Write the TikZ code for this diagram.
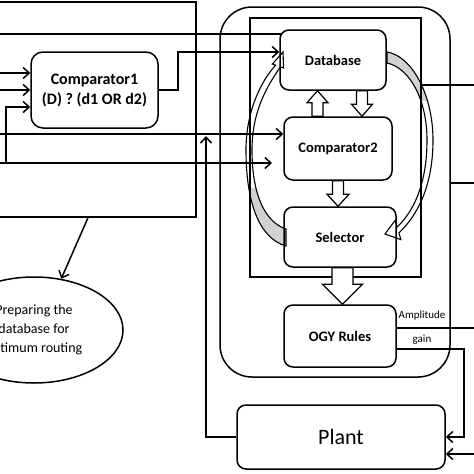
\documentclass[tikz,border=0pt]{standalone}
\usepackage{fontspec}
\setmainfont{Carlito}
\usetikzlibrary{calc,arrows.meta,shapes.geometric}

\tikzset{
	box/.style={draw,rounded corners=9pt,align=center,inner sep=0pt,
		font=\bfseries\fontsize{14.5}{17}\selectfont},
	flow/.style={-{Straight Barb[length=6pt,width=11pt]}},
	ribbon/.style={line width=1.1pt},
	small/.style={font=\fontsize{11}{13}\selectfont,inner sep=1pt}
}

% hollow block arrow: from, to, shaft half width, head half width, head length
\newcommand{\blockarrow}[5]{%
	\coordinate (ba) at ($(#2)!#5!(#1)$);
	\draw[fill=white,line width=1.2pt] ($(#1)!#3!90:(#2)$) -- ($(ba)!#3!90:(#2)$)
	-- ($(ba)!#4!90:(#2)$) -- (#2) -- ($(ba)!#4!-90:(#2)$)
	-- ($(ba)!#3!-90:(#2)$) -- ($(#1)!#3!-90:(#2)$) -- cycle;}

\begin{document}
\begin{tikzpicture}[x=1pt,y=-1pt,line width=1.5pt]
	\useasboundingbox (0,0) rectangle (474,474);
	\clip (0,0) rectangle (474,474);
	%curved ribbons
	\path[save path=\ribL] (286,246) .. controls (258,238) and (246,200) .. (246,150)
	.. controls (246,110) and (262,80) .. (275.6,65.2) -- (272.4,64) -- (283,52)
	-- (283.6,68) -- (280.4,66.9) .. controls (268,85) and (252,110) .. (252,150)
	.. controls (252,195) and (265,222) .. (286,229) -- cycle;
	\path[save path=\ribR] (387,52) .. controls (412,56) and (433,95) .. (433,140)
	.. controls (433,185) and (418,215) .. (398.9,232.9) -- (400.9,239.6) -- (385,234)
	-- (395.1,220.4) -- (397.1,227.1) .. controls (413,212) and (427,185) .. (427,140)
	.. controls (427,100) and (410,68) .. (387,63) -- cycle;
	\fill[white,use path=\ribL];
	\fill[white,use path=\ribR];
	\begin{scope}
		\clip (200,188) rectangle (300,260);
		\fill[gray!35,use path=\ribL];
	\end{scope}
	\begin{scope}
		\clip (380,40) rectangle (440,100);
		\fill[gray!35,use path=\ribR];
	\end{scope}
	\draw[ribbon,use path=\ribL];
	\draw[ribbon,use path=\ribR];
	%frames
	\node[draw,minimum width=206pt,minimum height=215pt] (left) at (93,109.5) {};
	\node[draw,rounded corners=32pt,minimum width=230pt,minimum height=370pt] (outer) at (335,192) {};
	\node[draw,minimum width=171pt,minimum height=259pt] (inner) at (335.5,147.5) {};
	%boxes
	\node[box,rounded corners=12pt,font=\bfseries\fontsize{16}{20}\selectfont,
	minimum width=127pt,minimum height=76pt] (comp1) at (94.5,90) {Comparator1\\(D) ? (d1 OR d2)};
	\node[box,minimum width=106pt,minimum height=60pt] (db) at (333,60) {Database};
	\node[box,minimum width=108pt,minimum height=63pt] (comp2) at (338,148.5) {Comparator2};
	\node[box,minimum width=112pt,minimum height=60pt] (sel) at (340,237) {Selector};
	\node[box,minimum width=112pt,minimum height=62pt] (ogy) at (340,336) {OGY Rules};
	\node[box,font=\fontsize{22}{26}\selectfont,minimum width=208pt,minimum height=64pt] (plant) at (341,437) {Plant};
	\node[draw,ellipse,minimum width=178pt,minimum height=106pt,align=center,
	font=\fontsize{14}{19}\selectfont] (prep) at (34,330) {Preparing the\\database for\\optimum routing};
	%free ends
	\coordinate (in0) at (0,34);
	\coordinate (in1) at (0,73);
	\coordinate (in2) at (0,90);
	\coordinate (in3) at (0,134);
	\coordinate (in4) at (0,163);
	\coordinate (br) at (6,163);
	\coordinate (c2stop) at (272,163);
	\coordinate (fbtip) at (206,136);
	\coordinate (out1) at (474,85);
	\coordinate (out2) at (474,183);
	\coordinate (out3) at (474,328);
	\coordinate (gk) at (464,349);
	\coordinate (in6) at (474,454);
	%connectors
	\draw (in0) -- ($(db.west |- in0)+(2,0)$);
	\draw[flow] (in1) -- (comp1.west |- in1);
	\draw[flow] (in2) -- (comp1.west);
	\draw[flow] (br) |- ($(comp1.west)+(0,17)$);
	\draw[flow] (comp1.east) -- ++(19,0) |- ($(db.west)+(0,-8)$);
	\draw[flow] (in3) -- (comp2.west |- in3);
	\draw[flow] (in4) -- (c2stop);
	\draw[flow] (plant.west) -| (fbtip);
	\draw[flow] ($(left.south)+(-5,0)$) -- (prep.62);
	\draw (inner.east |- out1) -- (out1);
	\draw (outer.east |- out2) -- (out2);
	\draw (ogy.east |- out3) -- (out3);
	\draw[flow] (ogy.east |- gk) -- (gk) |- (plant.east);
	\draw[flow] (in6) -- (plant.east |- in6);
	\node[small] (amp) at (422,316) {Amplitude};
	\node[small] (gain) at (422,340) {gain};
	%block arrows
	\coordinate (u1) at ($(comp2.north)+(-20.5,0)$);
	\coordinate (u2) at ($(db.south)+(-15.5,0)$);
	\coordinate (d1) at ($(db.south)+(29,0)$);
	\coordinate (d2) at ($(comp2.north)+(24,0)$);
	\coordinate (s1) at (comp2.south);
	\coordinate (s2) at ($(sel.north)+(-2,0)$);
	\coordinate (o1) at ($(sel.south)+(2.5,0)$);
	\coordinate (o2) at ($(ogy.north)+(2.5,0)$);
	\blockarrow{u1}{u2}{5.5pt}{10.5pt}{12pt}
	\blockarrow{d1}{d2}{5.5pt}{10.5pt}{12pt}
	\blockarrow{s1}{s2}{5.5pt}{11pt}{12pt}
	\blockarrow{o1}{o2}{10.5pt}{20pt}{20pt}
\end{tikzpicture}
\end{document}
